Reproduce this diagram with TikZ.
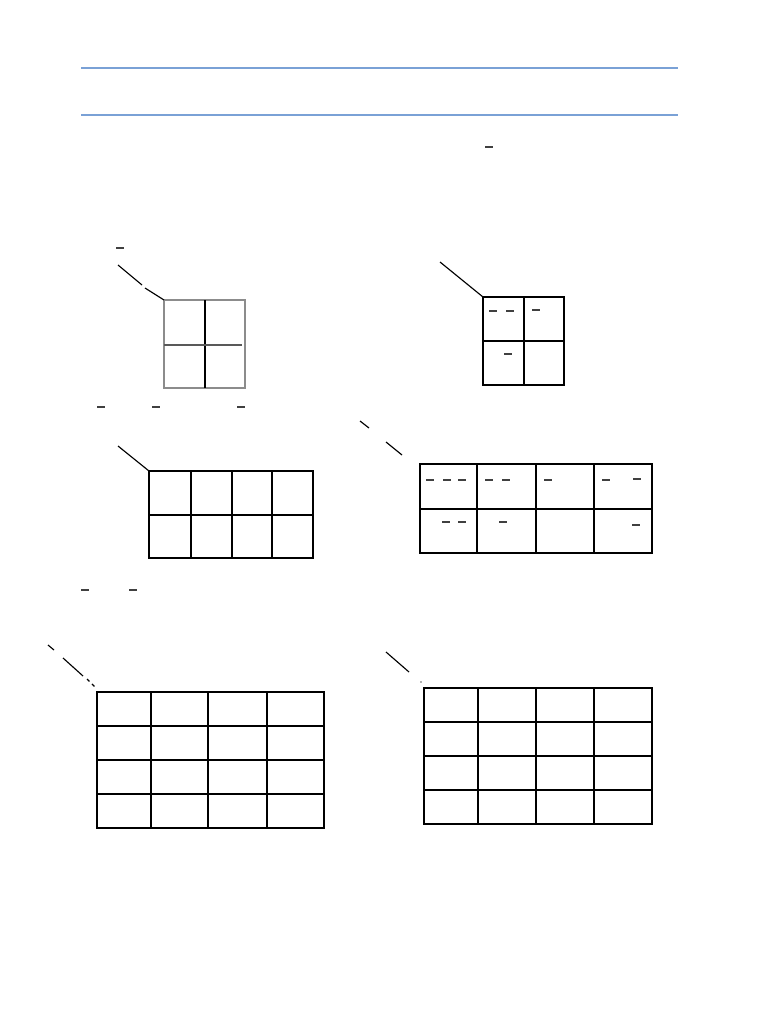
\documentclass[tikz,border=0pt]{standalone}
\usepackage{tikz}
\usetikzlibrary{calc}
\definecolor{rulecol}{RGB}{122,161,214}

\begin{document}
\begin{tikzpicture}[x=0.02cm,y=-0.02cm,line width=0.75pt]
  \tikzstyle{rule}=[draw=rulecol,line width=0.9pt]
  \tikzstyle{kmap}=[draw=black]
  \tikzstyle{pale}=[draw=black!45]
  \tikzstyle{diag}=[draw=black,line width=0.65pt]
  \tikzstyle{bar}=[draw=black!75,line width=0.85pt]
  \useasboundingbox (0,0) rectangle (768,1024);

  % heading rules
  \coordinate (hl) at (81,68);  \coordinate (hr) at (678,68);
  \coordinate (fl) at (81,115); \coordinate (fr) at (678,115);
  \draw[rule,line width=1.1pt] (hl) -- (hr);
  \draw[rule] (fl) -- (fr);

  % map 1 (2x2)
  \coordinate (m1) at (164,300); \coordinate (m1e) at (245,388);
  \draw[pale] (m1) rectangle (m1e);
  \draw[kmap] (205,300) -- (205,388);
  \draw[draw=black!65] (164,345) -- (242,345);
  \coordinate (m1a) at (118,265); \coordinate (m1b) at (142,285);
  \coordinate (m1c) at (145,288);
  \draw[diag] (m1a) -- (m1b);
  \draw[diag] (m1c) -- (m1);

  % map 2 (2x2)
  \coordinate (m2) at (483,297); \coordinate (m2e) at (564,385);
  \draw[kmap] (m2) rectangle (m2e);
  \draw[kmap] (524,297) -- (524,385);
  \draw[kmap] (483,341) -- (564,341);
  \coordinate (m2a) at (440,262);
  \draw[diag] (m2a) -- (m2);

  % map 3 (2x4)
  \coordinate (m3) at (149,471); \coordinate (m3e) at (313,558);
  \draw[kmap] (m3) rectangle (m3e);
  \foreach \x in {191,232,272}
    \draw[kmap] (\x,471) -- (\x,558);
  \draw[kmap] (149,515) -- (313,515);
  \coordinate (m3a) at (118,446);
  \draw[diag] (m3a) -- (m3);

  % map 4 (2x4)
  \coordinate (m4) at (420,464); \coordinate (m4e) at (652,553);
  \draw[kmap] (m4) rectangle (m4e);
  \foreach \x in {477,536,594}
    \draw[kmap] (\x,464) -- (\x,553);
  \draw[kmap] (420,509) -- (652,509);
  \coordinate (m4a) at (360,421); \coordinate (m4b) at (369,428);
  \coordinate (m4c) at (386,442); \coordinate (m4d) at (402,455);
  \draw[diag] (m4a) -- (m4b);
  \draw[diag] (m4c) -- (m4d);

  % map 5 (4x4)
  \coordinate (m5) at (97,692); \coordinate (m5e) at (324,828);
  \draw[kmap] (m5) rectangle (m5e);
  \foreach \x in {151,208,267}
    \draw[kmap] (\x,692) -- (\x,828);
  \foreach \y in {726,760,794}
    \draw[kmap] (97,\y) -- (324,\y);
  \coordinate (m5a) at (48,645); \coordinate (m5b) at (54,650);
  \coordinate (m5c) at (63,658); \coordinate (m5d) at (83,676);
  \coordinate (m5f) at (87,679); \coordinate (m5g) at (95,687);
  \draw[diag] (m5a) -- (m5b);
  \draw[diag] (m5c) -- (m5d);
  \draw[diag,dashed,dash pattern=on 2pt off 2pt] (m5f) -- (m5g);

  % map 6 (4x4)
  \coordinate (m6) at (424,688); \coordinate (m6e) at (652,824);
  \draw[kmap] (m6) rectangle (m6e);
  \foreach \x in {478,536,594}
    \draw[kmap] (\x,688) -- (\x,824);
  \foreach \y in {722,756,790}
    \draw[kmap] (424,\y) -- (652,\y);
  \coordinate (m6a) at (386,652); \coordinate (m6b) at (409,672);
  \draw[diag] (m6a) -- (m6b);
  \fill[black!60] (421,682) circle (0.8);

  % bars
  \foreach \x/\y in {485/147,116/248,
      489/311,506/311,532/310,504/354,
      97/407,152/407,237/407,
      426/480,443/480,458/480,485/480,502/480,544/480,602/480,633/479,
      442/522,458/522,499/522,632/525,
      81/590,129/590}
    \draw[bar] (\x,\y) -- ++(8,0);
\end{tikzpicture}
\end{document}
